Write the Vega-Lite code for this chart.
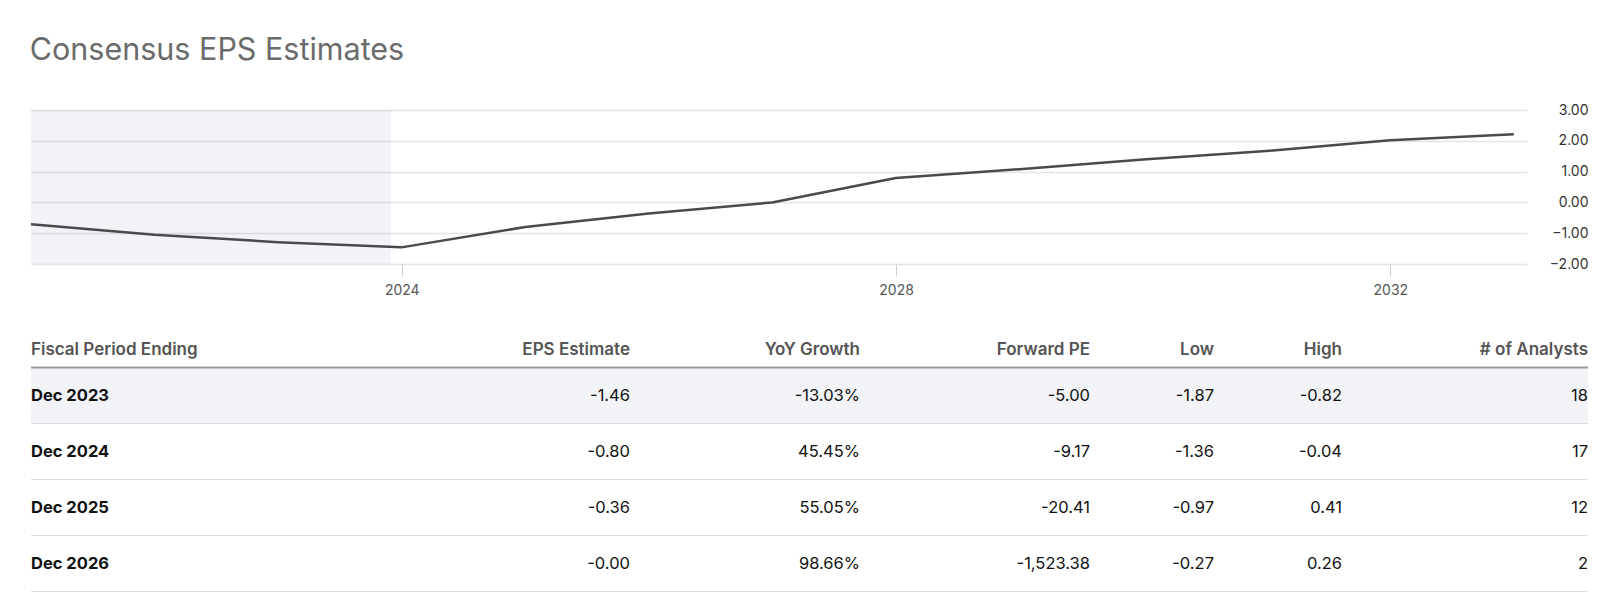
{
  "$schema": "https://vega.github.io/schema/vega-lite/v6.json",
  "background": "white",
  "padding": {"left": 29, "top": 36, "right": 12, "bottom": 0},
  "title": {"text": "Consensus EPS Estimates", "anchor": "start", "font": "Inter", "fontSize": 30.5, "fontWeight": 400, "color": "#6b6b6b", "offset": 36.5},
  "config": {"view": {"stroke": null}, "font": "Inter"},
  "spacing": 33,
  "datasets": {
    "eps": [
      {"date": "2020-12-31", "eps": -0.71},
      {"date": "2021-12-31", "eps": -1.05},
      {"date": "2022-12-31", "eps": -1.29},
      {"date": "2023-12-31", "eps": -1.46},
      {"date": "2024-12-31", "eps": -0.80},
      {"date": "2025-12-31", "eps": -0.36},
      {"date": "2026-12-31", "eps": 0.00},
      {"date": "2027-12-31", "eps": 0.79},
      {"date": "2028-12-31", "eps": 1.08},
      {"date": "2029-12-31", "eps": 1.39},
      {"date": "2030-12-31", "eps": 1.67},
      {"date": "2031-12-31", "eps": 2.02},
      {"date": "2032-12-31", "eps": 2.21}
    ],
    "cells": [
      {"row": 0, "col": 0, "text": "Fiscal Period Ending"},
      {"row": 0, "col": 1, "text": "EPS Estimate"},
      {"row": 0, "col": 2, "text": "YoY Growth"},
      {"row": 0, "col": 3, "text": "Forward PE"},
      {"row": 0, "col": 4, "text": "Low"},
      {"row": 0, "col": 5, "text": "High"},
      {"row": 0, "col": 6, "text": "# of Analysts"},
      {"row": 1, "col": 0, "text": "Dec 2023"},
      {"row": 1, "col": 1, "text": "-1.46"},
      {"row": 1, "col": 2, "text": "-13.03%"},
      {"row": 1, "col": 3, "text": "-5.00"},
      {"row": 1, "col": 4, "text": "-1.87"},
      {"row": 1, "col": 5, "text": "-0.82"},
      {"row": 1, "col": 6, "text": "18"},
      {"row": 2, "col": 0, "text": "Dec 2024"},
      {"row": 2, "col": 1, "text": "-0.80"},
      {"row": 2, "col": 2, "text": "45.45%"},
      {"row": 2, "col": 3, "text": "-9.17"},
      {"row": 2, "col": 4, "text": "-1.36"},
      {"row": 2, "col": 5, "text": "-0.04"},
      {"row": 2, "col": 6, "text": "17"},
      {"row": 3, "col": 0, "text": "Dec 2025"},
      {"row": 3, "col": 1, "text": "-0.36"},
      {"row": 3, "col": 2, "text": "55.05%"},
      {"row": 3, "col": 3, "text": "-20.41"},
      {"row": 3, "col": 4, "text": "-0.97"},
      {"row": 3, "col": 5, "text": "0.41"},
      {"row": 3, "col": 6, "text": "12"},
      {"row": 4, "col": 0, "text": "Dec 2026"},
      {"row": 4, "col": 1, "text": "-0.00"},
      {"row": 4, "col": 2, "text": "98.66%"},
      {"row": 4, "col": 3, "text": "-1,523.38"},
      {"row": 4, "col": 4, "text": "-0.27"},
      {"row": 4, "col": 5, "text": "0.26"},
      {"row": 4, "col": 6, "text": "2"}
    ]
  },
  "vconcat": [
    {
      "width": 1496,
      "height": 154,
      "layer": [
        {
          "data": {"values": [{"start": "2020-12-31", "end": "2023-11-30"}]},
          "mark": {"type": "rect", "fill": "#7d87af", "fillOpacity": 0.1},
          "encoding": {
            "x": {"field": "start", "type": "temporal", "scale": {"type": "utc", "domain": [{"year": 2020, "month": 12, "date": 31, "utc": true}, {"year": 2033, "month": 2, "date": 8, "utc": true}], "nice": false}},
            "x2": {"field": "end"}
          }
        },
        {
          "data": {"name": "eps"},
          "mark": {"type": "line", "color": "#4a4a4a", "strokeWidth": 2.5, "strokeJoin": "round"},
          "encoding": {
            "x": {
              "field": "date", "type": "temporal",
              "scale": {"type": "utc", "domain": [{"year": 2020, "month": 12, "date": 31, "utc": true}, {"year": 2033, "month": 2, "date": 8, "utc": true}], "nice": false},
              "axis": {
                "title": null, "grid": false, "domain": false, "format": "%Y",
                "values": [{"year": 2024, "month": 1, "date": 1, "utc": true}, {"year": 2028, "month": 1, "date": 1, "utc": true}, {"year": 2032, "month": 1, "date": 1, "utc": true}],
                "ticks": true, "tickColor": "#cccccc", "tickSize": 12, "tickWidth": 1,
                "labelPadding": 7, "labelFontSize": 14, "labelColor": "#555555", "labelFont": "Inter"
              }
            },
            "y": {
              "field": "eps", "type": "quantitative",
              "scale": {"domain": [-2, 3], "nice": false, "zero": false},
              "axis": {
                "orient": "right", "title": null, "values": [-2, -1, 0, 1, 2, 3], "format": ".2f",
                "grid": true, "gridColor": "#e4e4e4", "gridWidth": 1.5,
                "domain": false, "ticks": false, "labelPadding": 61, "labelAlign": "right",
                "labelFontSize": 14, "labelColor": "#333333", "labelFont": "Inter"
              }
            }
          }
        }
      ]
    },
    {
      "width": 1557,
      "height": 264,
      "layer": [
        {
          "data": {"values": [{"top": 0.5, "bottom": 1.5}]},
          "mark": {"type": "rect", "fill": "#f2f3f7"},
          "encoding": {
            "y": {"field": "top", "type": "quantitative", "scale": {"domain": [0, 0.5, 4.5], "range": [20, 37.5, 261.5], "nice": false, "zero": false}, "axis": null},
            "y2": {"field": "bottom"}
          }
        },
        {
          "data": {"values": [{"line": 1.5}, {"line": 2.5}, {"line": 3.5}, {"line": 4.5}]},
          "mark": {"type": "rule", "color": "#dddddd", "strokeWidth": 1.2},
          "encoding": {
            "y": {"field": "line", "type": "quantitative", "axis": null}
          }
        },
        {
          "data": {"values": [{"line": 0.5}]},
          "mark": {"type": "rule", "color": "#9a9a9a", "strokeWidth": 2},
          "encoding": {
            "y": {"field": "line", "type": "quantitative", "axis": null}
          }
        },
        {
          "data": {"name": "cells"},
          "transform": [{"filter": "datum.row == 0 && datum.col == 0"}],
          "mark": {"type": "text", "align": "left", "baseline": "middle", "font": "Inter", "fontSize": 17, "fontWeight": 600, "color": "#555555"},
          "encoding": {
            "x": {"field": "col", "type": "quantitative", "scale": {"domain": [0, 1, 2, 3, 4, 5, 6], "range": [0, 599, 829, 1059, 1183, 1311, 1557], "nice": false, "zero": false}, "axis": null},
            "y": {"field": "row", "type": "quantitative", "axis": null},
            "text": {"field": "text"}
          }
        },
        {
          "data": {"name": "cells"},
          "transform": [{"filter": "datum.row == 0 && datum.col > 0"}],
          "mark": {"type": "text", "align": "right", "baseline": "middle", "font": "Inter", "fontSize": 17, "fontWeight": 600, "color": "#555555"},
          "encoding": {
            "x": {"field": "col", "type": "quantitative", "axis": null},
            "y": {"field": "row", "type": "quantitative", "axis": null},
            "text": {"field": "text"}
          }
        },
        {
          "data": {"name": "cells"},
          "transform": [{"filter": "datum.row > 0 && datum.col == 0"}],
          "mark": {"type": "text", "align": "left", "baseline": "middle", "font": "Inter", "fontSize": 16.5, "fontWeight": 700, "color": "#111111"},
          "encoding": {
            "x": {"field": "col", "type": "quantitative", "axis": null},
            "y": {"field": "row", "type": "quantitative", "axis": null},
            "text": {"field": "text"}
          }
        },
        {
          "data": {"name": "cells"},
          "transform": [{"filter": "datum.row > 0 && datum.col > 0"}],
          "mark": {"type": "text", "align": "right", "baseline": "middle", "font": "Inter", "fontSize": 16.5, "fontWeight": 400, "color": "#111111"},
          "encoding": {
            "x": {"field": "col", "type": "quantitative", "axis": null},
            "y": {"field": "row", "type": "quantitative", "axis": null},
            "text": {"field": "text"}
          }
        }
      ]
    }
  ]
}
